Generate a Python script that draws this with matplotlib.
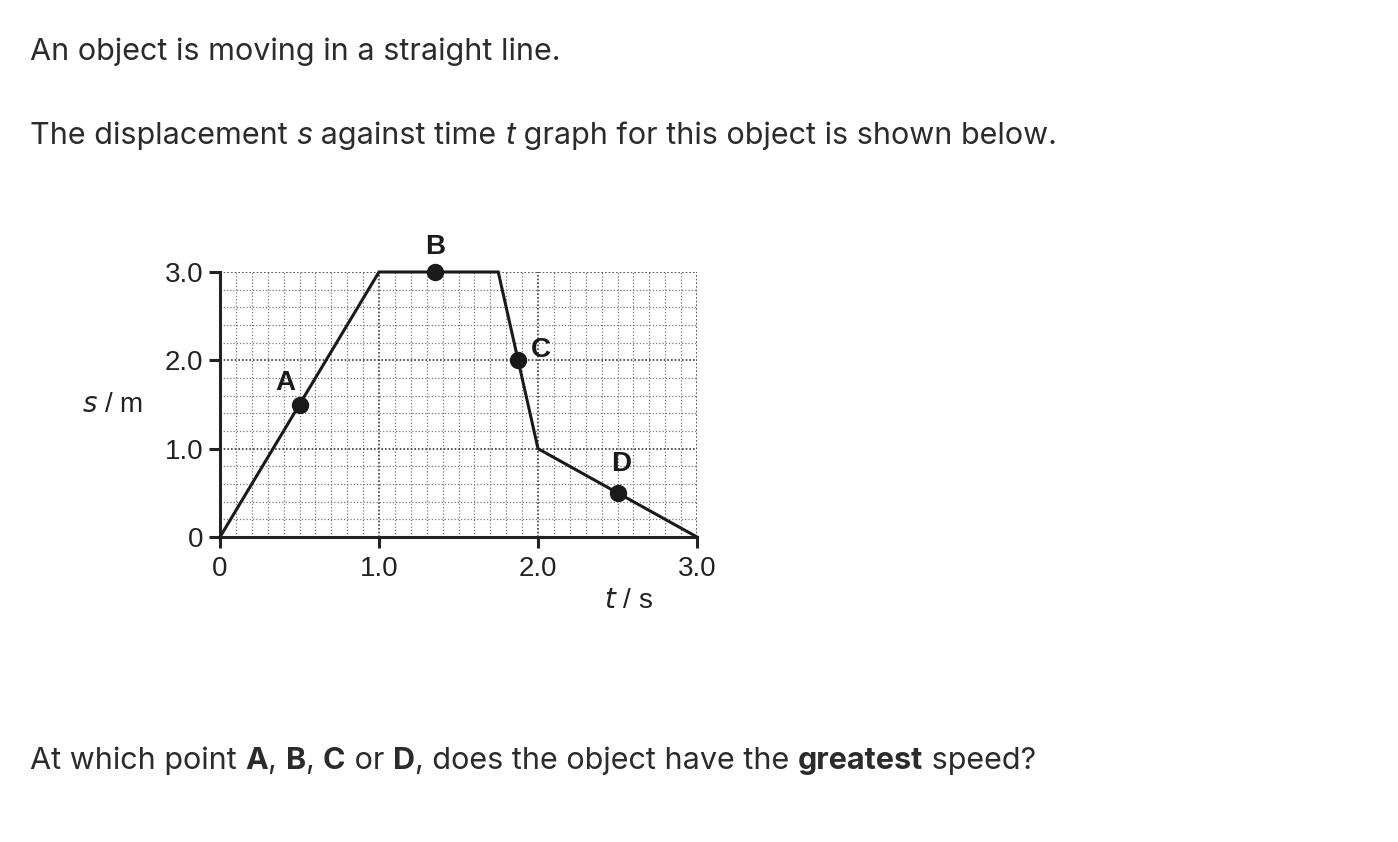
import numpy as np
import matplotlib
matplotlib.use("Agg")
from matplotlib import pyplot as plt

# graph data
t_path = [0.0, 1.0, 1.75, 2.0, 3.0]
s_path = [0.0, 3.0, 3.0, 1.0, 0.0]
pt_names = ["A", "B", "C", "D"]
pt_t = [0.5, 1.35, 1.875, 2.5]
pt_s = [1.5, 3.0, 2.0, 0.5]
lab_t = [0.41, 1.35, 2.02, 2.52]
lab_s = [1.74, 3.28, 2.12, 0.83]
ticks = [0.0, 1.0, 2.0, 3.0]
tick_labels = ["0", "1.0", "2.0", "3.0"]

W, H = 1398, 842
fig = plt.figure(figsize=(W / 100, H / 100), dpi=100)
fig.patch.set_facecolor("white")

txt_col = "#2b2b2b"
body = dict(family="Inter", fontsize=22, color=txt_col)


def rich_line(x, y, parts):
    # parts: list of (text, weight, style)
    r = fig.canvas.get_renderer()
    for s, w, st in parts:
        t = fig.text(x, y, s, fontweight=w, fontstyle=st, va="baseline", ha="left", **body)
        bb = t.get_window_extent(renderer=r)
        x = x + bb.width / W


rich_line(30 / W, 1 - 60 / H, [("An object is moving in a straight line.", "normal", "normal")])
rich_line(30 / W, 1 - 144 / H, [("The displacement ", "normal", "normal"), ("s", "normal", "italic"),
                                (" against time ", "normal", "normal"), ("t", "normal", "italic"),
                                (" graph for this object is shown below.", "normal", "normal")])
rich_line(30 / W, 1 - 769 / H, [("At which point ", "normal", "normal"), ("A", "bold", "normal"),
                                (", ", "normal", "normal"), ("B", "bold", "normal"),
                                (", ", "normal", "normal"), ("C", "bold", "normal"),
                                (" or ", "normal", "normal"), ("D", "bold", "normal"),
                                (", does the object have the ", "normal", "normal"),
                                ("greatest", "bold", "normal"), (" speed?", "normal", "normal")])

# axes
ax = fig.add_axes([220 / W, 1 - 537 / H, 477 / W, 265 / H])
ax.set_xlim(0, 3.0)
ax.set_ylim(0, 3.0)
for side in ["top", "right"]:
    ax.spines[side].set_visible(False)
for side in ["left", "bottom"]:
    ax.spines[side].set_linewidth(2.2)
    ax.spines[side].set_color("#222222")

ax.set_xticks(ticks)
ax.set_xticklabels(tick_labels)
ax.set_yticks(ticks)
ax.set_yticklabels(tick_labels)
ax.set_xticks(np.arange(0, 3.01, 0.1), minor=True)
ax.set_yticks(np.arange(0, 3.01, 0.2), minor=True)
ax.tick_params(which="major", direction="out", length=8, width=2.2, color="#222222",
               labelsize=20, labelcolor="#222222")
ax.tick_params(axis="y", pad=4)
ax.tick_params(axis="x", pad=6)
ax.tick_params(which="minor", length=0)
for lab in ax.get_xticklabels() + ax.get_yticklabels():
    lab.set_family("Liberation Sans")

ax.grid(which="minor", linestyle=(0, (1, 1.6)), color="#7a7a7a", linewidth=0.9)
ax.grid(which="major", linestyle=(0, (1, 1.2)), color="#3a3a3a", linewidth=1.2)
ax.set_axisbelow(True)

ax.plot(t_path, s_path, color="#1a1a1a", linewidth=2.2, solid_joinstyle="miter", clip_on=False, zorder=3)
ax.plot(pt_t, pt_s, "o", color="#1a1a1a", markersize=11.5, clip_on=False, zorder=4)
for n, x, y in zip(pt_names, lab_t, lab_s):
    ax.text(x, y, n, family="Liberation Sans", fontweight="bold", fontsize=20,
            color="#1a1a1a", ha="center", va="center", clip_on=False)

fig.text(112 / W, 1 - 405 / H, r"$s$ / m", family="Liberation Sans", fontsize=20,
         color="#222222", ha="center", va="center")
fig.text(628 / W, 1 - 601 / H, r"$t$ / s", family="Liberation Sans", fontsize=20,
         color="#222222", ha="center", va="center")

fig.savefig("out.png", dpi=100)
